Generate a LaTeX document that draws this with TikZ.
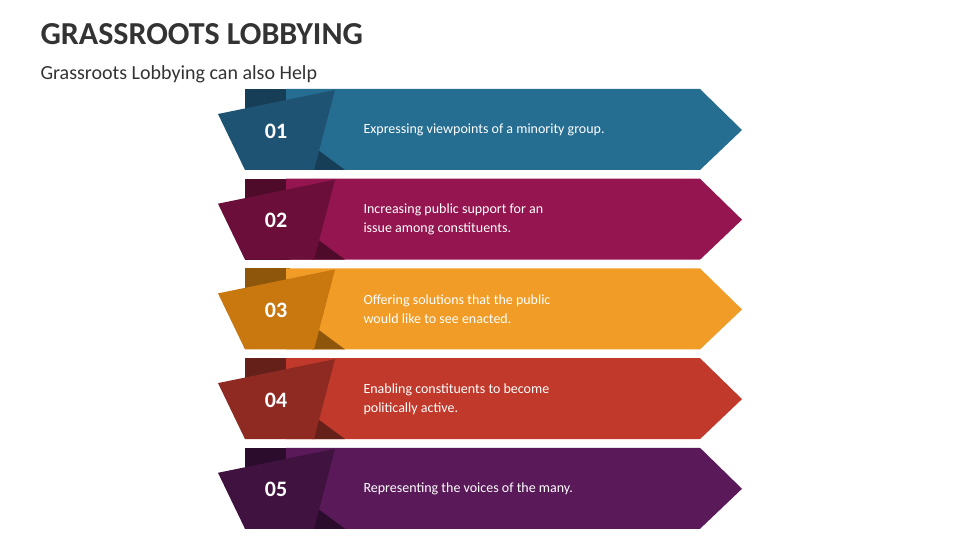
\documentclass[tikz,border=0pt]{standalone}
\usepackage{fontspec}
\setmainfont{Carlito}
\begin{document}
\begin{tikzpicture}[x=1pt,y=-1pt,
  lbl/.style={anchor=west,text=white,font=\fontsize{14}{19}\selectfont,align=left},
  num/.style={text=white,font=\bfseries\fontsize{22}{24}\selectfont}]
\useasboundingbox (0,0) rectangle (960,540);
\node[anchor=west,font=\bfseries\fontsize{32}{36}\selectfont,text=black!80] (title) at (37,34) {GRASSROOTS LOBBYING};
\node[anchor=west,font=\fontsize{20}{24}\selectfont,text=black!80] (sub) at (37,74) {Grassroots Lobbying can also Help};
\foreach \i/\main/\dark/\deep/\n/\t in {
 0/266D92/1F5373/173E57/01/{Expressing viewpoints of a minority group.},
 1/94154F/6B0F3A/4E0B2A/02/{Increasing public support for an\\issue among constituents.},
 2/F19C27/C9780F/8E560B/03/{Offering solutions that the public\\would like to see enacted.},
 3/C0392B/8E2A22/66201A/04/{Enabling constituents to become\\politically active.},
 4/5A1A5A/3F1240/2C0C2D/05/{Representing the voices of the many.}}{
 \begin{scope}[yshift=-89.7*\i]
 \definecolor{colmain}{HTML}{\main}\definecolor{coldark}{HTML}{\dark}\definecolor{coldeep}{HTML}{\deep}
 \fill[coldeep] (245,89) rectangle (290,170);
 \fill[colmain] (286,89) -- (700,89) -- (742,130) -- (700,170) -- (286,170) -- cycle;
 \fill[coldeep] (312,170) -- (318,150) -- (345,170) -- cycle;
 \fill[coldark] (218,114) -- (335,90) -- (314,170) -- (245,170) -- cycle;
 \node[num] (n\i) at (276,131) {\n};
 \node[lbl] (t\i) at (360,130) {\t};
 \end{scope}}
\end{tikzpicture}
\end{document}
